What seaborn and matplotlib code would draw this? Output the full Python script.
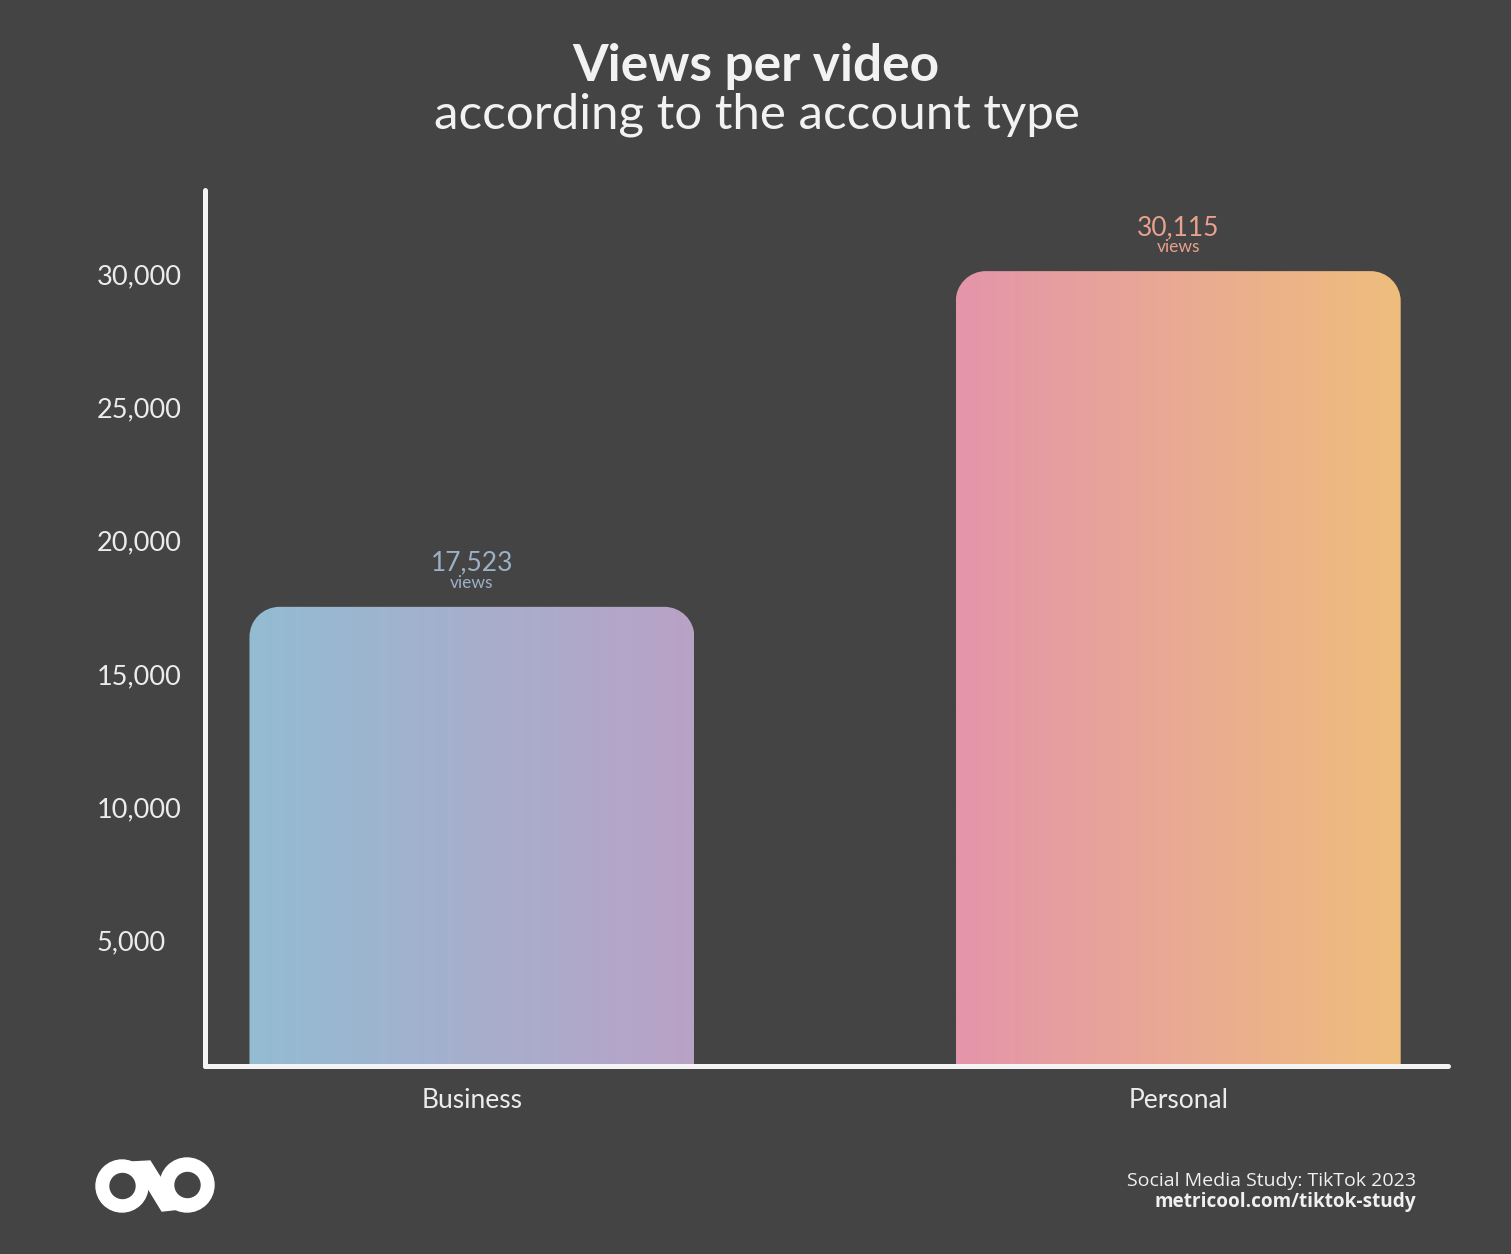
import numpy as np
import seaborn as sns
import matplotlib.pyplot as plt
from matplotlib.path import Path
from matplotlib.patches import PathPatch, Circle, Polygon
from matplotlib.colors import LinearSegmentedColormap

# data
categories = ['Business', 'Personal']
views = [17523, 30115]
y_ticks = [5000, 10000, 15000, 20000, 25000, 30000]
y_tick_labels = ['5,000', '10,000', '15,000', '20,000', '25,000', '30,000']
bar_colors = [('#93bcd3', '#b9a2c6'), ('#e495aa', '#efbe7c')]
label_colors = ['#9cb0c6', '#e9a08c']

BG = '#444444'
W, H = 1511, 1254

sns.set_style('white', {'axes.facecolor': BG, 'figure.facecolor': BG})
plt.rcParams['font.family'] = ['Lato', 'DejaVu Sans']


def fx(x):
    return x / W


def fy(y):
    return 1 - y / H


fig = plt.figure(figsize=(W / 100, H / 100), dpi=100)
# axes box in pixels: left 205, right 1448, top 190, bottom 1066
ax = fig.add_axes([fx(205), fy(1066), (1448 - 205) / W, (1066 - 190) / H])

sns.barplot(x=categories, y=views, width=0.63, ax=ax, color='white')

xlim = (-0.378, 1.382)
ylim = (300, 300 + (1066 - 190) / (133.3 / 5000))
px_x = (1448 - 205) / (xlim[1] - xlim[0])
px_y = (1066 - 190) / (ylim[1] - ylim[0])
rx, ry = 30 / px_x, 30 / px_y
k = 0.5523

for i, p in enumerate(list(ax.patches)):
    x0, w, h = p.get_x(), p.get_width(), p.get_height()
    x1 = x0 + w
    p.set_visible(False)
    verts = [(x0, 0), (x0, h - ry),
             (x0, h - ry + k * ry), (x0 + rx - k * rx, h), (x0 + rx, h),
             (x1 - rx, h),
             (x1 - rx + k * rx, h), (x1, h - ry + k * ry), (x1, h - ry),
             (x1, 0), (x0, 0)]
    codes = [Path.MOVETO, Path.LINETO,
             Path.CURVE4, Path.CURVE4, Path.CURVE4,
             Path.LINETO,
             Path.CURVE4, Path.CURVE4, Path.CURVE4,
             Path.LINETO, Path.CLOSEPOLY]
    shape = PathPatch(Path(verts, codes), facecolor='none', edgecolor='none')
    ax.add_patch(shape)
    cmap = LinearSegmentedColormap.from_list(f'g{i}', bar_colors[i])
    grad = np.linspace(0, 1, 256).reshape(1, -1)
    im = ax.imshow(grad, extent=[x0, x1, 0, h], aspect='auto', cmap=cmap, zorder=1)
    im.set_clip_path(shape)

    ax.annotate(f'{views[i]:,}', (i, views[i]), xytext=(0, 31.5), textcoords='offset points',
                ha='center', va='center', fontsize=19, color=label_colors[i])
    ax.annotate('views', (i, views[i]), xytext=(0, 17.5), textcoords='offset points',
                ha='center', va='center', fontsize=12.5, color=label_colors[i])

ax.set_xlim(*xlim)
ax.set_ylim(*ylim)

ax.set_yticks(y_ticks)
ax.set_yticklabels(y_tick_labels)
ax.tick_params(axis='y', length=0, pad=78, labelsize=19.5, labelcolor='#ececec')
for lab in ax.get_yticklabels():
    lab.set_horizontalalignment('left')
ax.tick_params(axis='x', length=0, pad=16, labelsize=19, labelcolor='#ececec')

for side in ['top', 'right']:
    ax.spines[side].set_visible(False)
for side in ['left', 'bottom']:
    ax.spines[side].set_color('#f4f4f4')
    ax.spines[side].set_linewidth(3.6)
    ax.spines[side].set_capstyle('round')
    ax.spines[side].set_zorder(3)
ax.set_xlabel('')
ax.set_ylabel('')

# titles
fig.text(fx(756), fy(66), 'Views per video', ha='center', va='center',
         fontsize=37, fontweight='bold', color='#f2f2f2')
fig.text(fx(757), fy(115), 'according to the account type', ha='center', va='center',
         fontsize=35.5, color='#f2f2f2')

# footer
fig.text(fx(1416), fy(1181), 'Social Media Study: TikTok 2023', ha='right', va='center',
         fontsize=14, color='#f0f0f0', family=['Open Sans', 'DejaVu Sans'])
fig.text(fx(1416), fy(1202), 'metricool.com/tiktok-study', ha='right', va='center',
         fontsize=13.7, fontweight='bold', color='#f0f0f0', family=['Open Sans', 'DejaVu Sans'])

# logo
lax = fig.add_axes([0, 0, 1, 1])
lax.set_xlim(0, W)
lax.set_ylim(H, 0)
lax.axis('off')
lax.patch.set_alpha(0)
lax.add_patch(Polygon([(132, 1162), (150, 1161), (180, 1209), (162, 1211)], color='white'))
lax.add_patch(Circle((122, 1186), 26, color='white'))
lax.add_patch(Circle((187, 1185), 27, color='white'))
lax.add_patch(Circle((122.5, 1186), 12.5, color=BG))
lax.add_patch(Circle((187.5, 1185), 12.5, color=BG))

fig.savefig('out.png', dpi=100, facecolor=BG)
